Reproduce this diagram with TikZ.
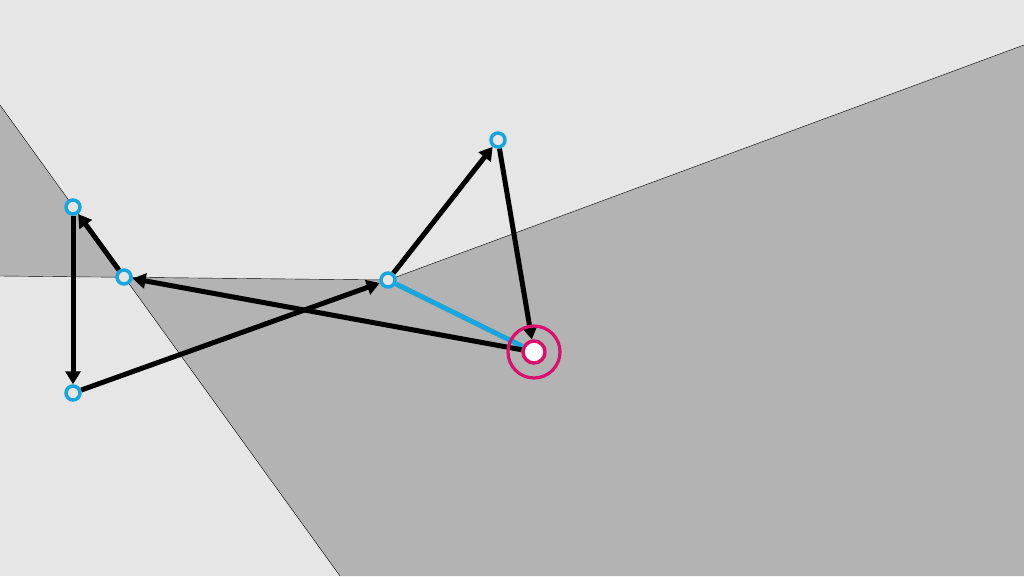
\documentclass[tikz,border=0pt]{standalone}
\usepackage{tikz}
\usetikzlibrary{arrows.meta}

\definecolor{bglight}{HTML}{E6E6E6}
\definecolor{bgdark}{HTML}{B3B3B3}
\definecolor{ptblue}{HTML}{1AA5DC}
\definecolor{goalred}{HTML}{D9116E}

\tikzset{
	waypoint/.style={circle, draw=ptblue, line width=3.5pt, fill=bglight, inner sep=0pt, minimum size=14pt},
	goalpoint/.style={circle, draw=goalred, line width=3.5pt, fill=white!90!bglight, inner sep=0pt, minimum size=22pt},
	move/.style={line width=5pt, -{Triangle[length=13pt,width=15pt]}},
	border/.style={black, line width=0.4pt}
}

\begin{document}
\begin{tikzpicture}[x=1pt, y=-1pt]
			% Background and picture size
			\fill[bglight] (0, 0) rectangle (1024, 576);
			\useasboundingbox (0, 0) rectangle (1024, 576);
			
			% Shaded regions between the crossing borders
			\fill[bgdark] (0, 105) -- (124, 277) -- (0, 276) -- cycle;
			\fill[bgdark] (124, 277) -- (388, 280) -- (1024, 45) -- (1024, 576) -- (340, 576) -- cycle;
			
			% Thin borders
			\draw[border] (0, 105) -- (340, 576);
			\draw[border] (0, 276) -- (388, 280);
			\draw[border] (388, 280) -- (1024, 45);
			
			% Points of the path
			\node[waypoint] (p1) at (124, 277) {};
			\node[waypoint] (p2) at (73, 207) {};
			\node[waypoint] (p3) at (73, 393) {};
			\node[waypoint] (p4) at (388, 280) {};
			\node[waypoint] (p5) at (498, 140) {};
			\node[goalpoint] (goal) at (534, 352) {};
			
			% Direct link to the goal
			\draw[ptblue, line width=5pt] (p4) -- (goal);
			
			% Moves along the path
			\draw[move] (goal) -- (p1);
			\draw[move] (p1) -- (p2);
			\draw[move] (p2) -- (p3);
			\draw[move] (p3) -- (p4);
			\draw[move] (p4) -- (p5);
			\draw[move] (p5) -- (goal);
			
			% Ring round the goal
			\draw[goalred, line width=3.2pt] (goal) circle (26);
			
		\end{tikzpicture}
\end{document}
